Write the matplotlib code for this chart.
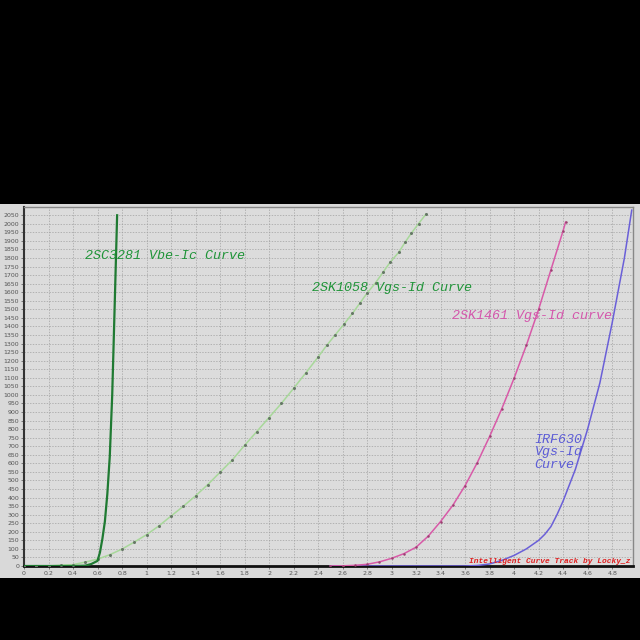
import matplotlib
matplotlib.use("Agg")
import matplotlib.pyplot as plt
import numpy as np
from matplotlib.patches import Rectangle

# 2SC3281 Vbe-Ic
vbe = [0, 0.1, 0.2, 0.3, 0.4, 0.5, 0.55, 0.6, 0.62, 0.64, 0.66, 0.68, 0.70, 0.72, 0.74, 0.76]
ic = [0, 0, 0, 0, 0, 2, 12, 30, 80, 160, 260, 420, 640, 1000, 1520, 2050]

# 2SK1058 Vgs-Id
vgs_1058 = [0, 0.1, 0.2, 0.3, 0.4, 0.5, 0.6, 0.7, 0.8, 0.9, 1.0, 1.1, 1.2, 1.3, 1.4, 1.5,
            1.6, 1.7, 1.8, 1.9, 2.0, 2.1, 2.2, 2.3, 2.4, 2.47, 2.54, 2.61, 2.68, 2.74,
            2.80, 2.87, 2.93, 2.99, 3.06, 3.11, 3.16, 3.22, 3.28]
id_1058 = [0, 2, 0, 5, 8, 23, 40, 66, 99, 140, 183, 234, 292, 349, 410, 476,
           548, 620, 705, 786, 868, 950, 1038, 1129, 1221, 1289, 1351, 1412, 1476, 1535,
           1595, 1656, 1717, 1777, 1835, 1892, 1944, 2001, 2056]

# 2SK1461 Vgs-Id
vgs_1461 = [2.5, 2.6, 2.7, 2.8, 2.9, 3.0, 3.1, 3.2, 3.3, 3.4, 3.5, 3.6, 3.7, 3.8, 3.9,
            4.0, 4.1, 4.2, 4.3, 4.4, 4.42]
id_1461 = [0, 1, 4, 10, 24, 45, 72, 110, 175, 260, 355, 470, 605, 757, 920,
           1098, 1290, 1500, 1730, 1960, 2010]

# IRF630 Vgs-Id
vgs_630 = [2.5, 3.0, 3.5, 3.6, 3.7, 3.8, 3.9, 4.0, 4.1, 4.2, 4.25, 4.3, 4.35, 4.4, 4.5,
           4.6, 4.7, 4.8, 4.9, 4.96]
id_630 = [0, 0, 0, 0, 3, 12, 33, 62, 100, 150, 185, 230, 300, 380, 565,
          800, 1070, 1420, 1800, 2080]

xticks = [round(v, 1) for v in np.arange(0, 4.81, 0.2)]
xtick_labels = [("%g" % v) for v in xticks]
yticks = list(range(0, 2051, 50))

fig = plt.figure(figsize=(6.4, 6.4), dpi=100, facecolor="black")
fig.patches.append(Rectangle((0, 0.097), 1, 0.584, transform=fig.transFigure,
                             facecolor="#d9d9d9", edgecolor="none", zorder=-10))

ax = fig.add_axes([0.0375, 0.1156, 0.9515, 0.5614])
ax.set_zorder(5)
ax.set_facecolor("#dcdcdc")

ax.plot(vgs_630, id_630, color="#6a5fd8", lw=1.1, zorder=3)
ax.plot(vgs_1461, id_1461, color="#d85aa8", lw=1.1, marker="o", ms=1.8,
        mfc="#9a4070", mec="none", zorder=3)
ax.plot(vgs_1058, id_1058, color="#a8d89a", lw=1.1, marker="o", ms=2.2,
        mfc="#667766", mec="none", zorder=3)
ax.plot(vbe, ic, color="#1f7a32", lw=1.6, zorder=4)

ax.set_xlim(0, 4.97)
ax.set_ylim(0, 2100)
ax.set_xticks(xticks)
ax.set_xticklabels(xtick_labels)
ax.set_yticks(yticks)
ax.tick_params(labelsize=4.5, labelcolor="#555555", length=2, width=0.5,
               color="#555555", pad=1.5)

ax.grid(True, color="#a0a0a0", lw=0.5, ls=(0, (2, 2)))
ax.set_axisbelow(True)

ax.spines["left"].set_color("#333333")
ax.spines["left"].set_linewidth(1.5)
ax.spines["bottom"].set_color("#111111")
ax.spines["bottom"].set_linewidth(2)
for s in ["top", "right"]:
    ax.spines[s].set_color("#888888")
    ax.spines[s].set_linewidth(1)

lab = dict(family="Liberation Mono", style="italic", fontsize=9.6, va="center",
           ha="left", zorder=5)
ax.text(0.50, 1810, "2SC3281 Vbe-Ic Curve", color="#1f9438", **lab)
ax.text(2.35, 1625, "2SK1058 Vgs-Id Curve", color="#1f9438", **lab)
ax.text(3.49, 1463, "2SK1461 Vgs-Id curve", color="#d456ac", **lab)
ax.text(4.166, 665, "IRF630\nVgs-Id\nCurve", color="#5c5cd6", linespacing=1.05, **lab)
ax.text(3.635, 25, "Intelligent Curve Track by Locky_z", color="#e02020",
        family="Liberation Mono", style="italic", weight="bold", fontsize=5.7,
        va="center", ha="left", zorder=5)

fig.savefig("out.png", dpi=100, facecolor=fig.get_facecolor())
